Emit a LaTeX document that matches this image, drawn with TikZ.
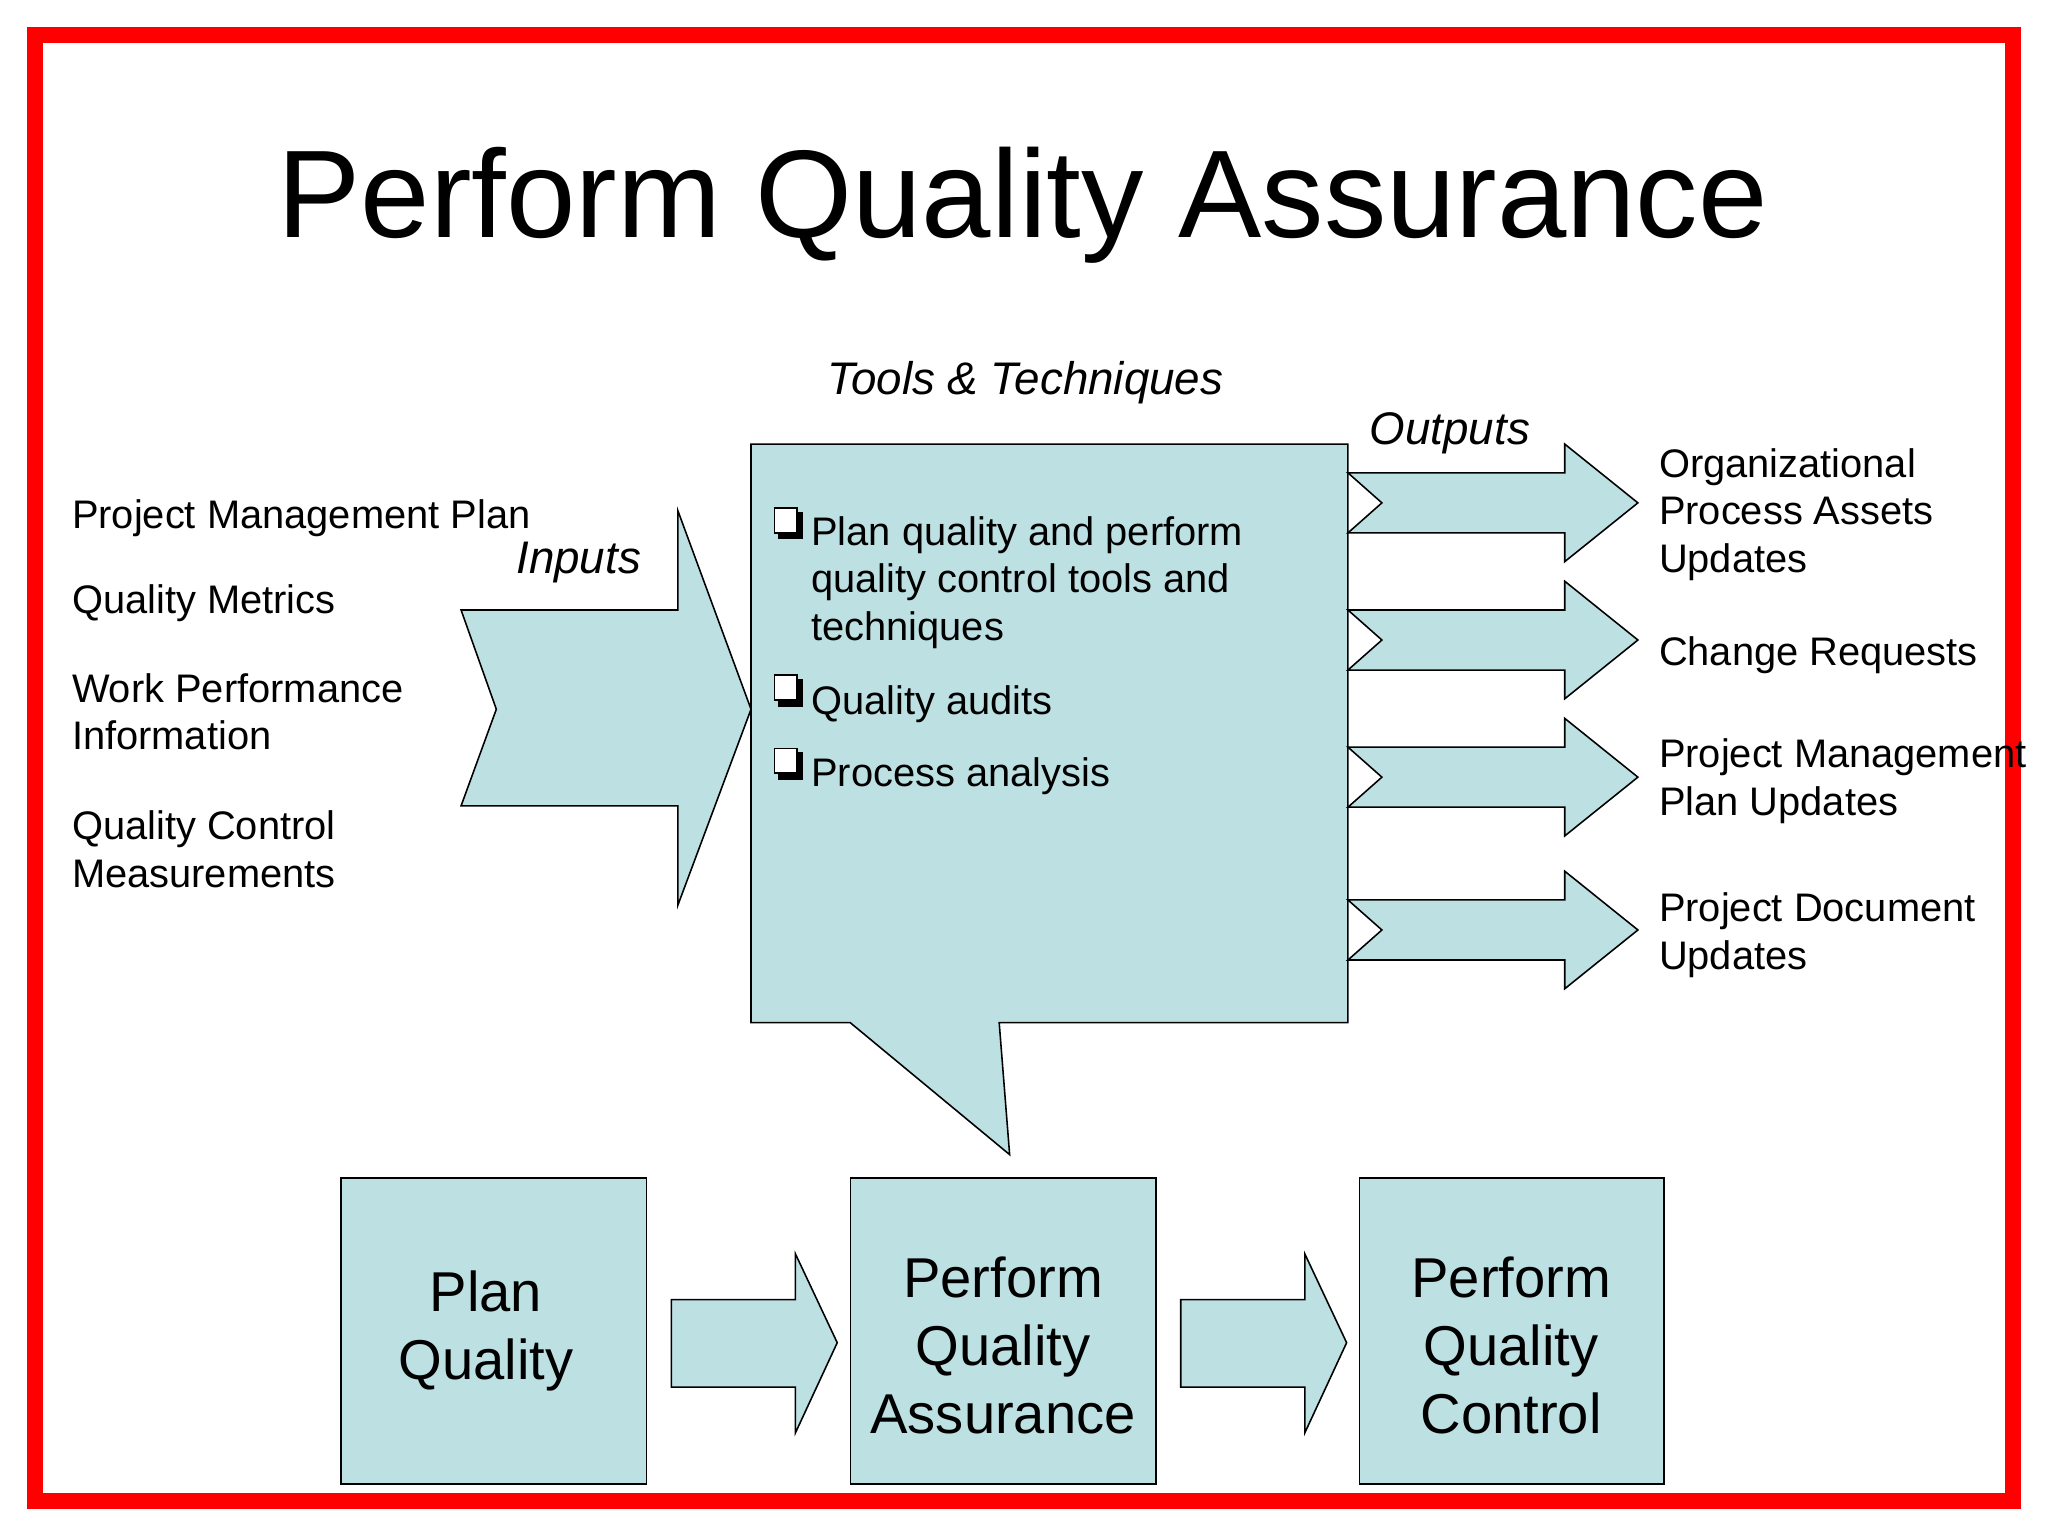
\documentclass[tikz,border=0pt]{standalone}
\usepackage{fontspec}
\setmainfont{Liberation Sans}
\definecolor{qa}{HTML}{BDE0E3}
\begin{document}
\begin{tikzpicture}[x=1pt,y=-1pt,
  shp/.style={draw=black,fill=qa,line width=1.2pt,line join=miter},
  lbl/.style={inner sep=0pt,anchor=west,align=left,font=\fontsize{30.5}{36.5}\selectfont},
  ital/.style={inner sep=0pt,font=\fontsize{35}{40}\selectfont\itshape},
  big/.style={inner sep=0pt,align=center,font=\fontsize{43}{52}\selectfont}]
\useasboundingbox[fill=white] (0,0) rectangle (1568,1176);
\draw[red,line width=12pt] (27,27) rectangle (1541,1149);
\node[inner sep=0pt,font=\fontsize{95.5}{110}\selectfont] (title) at (783,157) {Perform Quality Assurance};
\node[ital] (tt) at (785,293) {Tools \& Techniques};
% main box
\draw[shp] (575,340) -- (1032,340) -- (1032,783) -- (765,783) -- (773,884) -- (651,783) -- (575,783) -- cycle;
\node[lbl] (t1) at (621,446) {Plan quality and perform\\quality control tools and\\techniques};
\node[lbl] (t2) at (621,539) {Quality audits};
\node[lbl] (t3) at (621,594) {Process analysis};
\foreach \yy in {404,532,588}{
  \fill (596,\yy-12) rectangle (615,\yy+9);
  \fill[white] (593,\yy-15) rectangle (610,\yy+4);
  \draw[line width=1.2pt] (593,\yy-15) rectangle (610,\yy+4);
}
% inputs
\draw[shp] (353,467) -- (519,467) -- (519,391) -- (575,543) -- (519,693) -- (519,617) -- (353,617) -- (380,543) -- cycle;
\node[ital] (inp) at (443,431) {Inputs};
\node[lbl] (i1) at (55,397) {Project Management Plan};
\node[lbl] (i2) at (55,462) {Quality Metrics};
\node[lbl] (i3) at (55,545) {Work Performance\\Information};
\node[lbl] (i4) at (55,650) {Quality Control\\Measurements};
% outputs
\foreach \c in {385,490,595,712}{
  \draw[shp] (1032,\c-23) -- (1198,\c-23) -- (1198,\c-45) -- (1254,\c) -- (1198,\c+45) -- (1198,\c+23) -- (1032,\c+23) -- (1058,\c) -- cycle;
}
\node[ital] (outp) at (1110,332) {Outputs};
\node[lbl] (o1) at (1270,394) {Organizational\\Process Assets\\Updates};
\node[lbl] (o2) at (1270,502) {Change Requests};
\node[lbl] (o3) at (1270,598) {Project Management\\Plan Updates};
\node[lbl] (o4) at (1270,716) {Project Document\\Updates};
% bottom
\draw[shp] (261,902) rectangle (495,1136);
\draw[shp] (651,902) rectangle (885,1136);
\draw[shp] (1041,902) rectangle (1274,1136);
\node[big] (b1) at (372,1019) {Plan\\Quality};
\node[big] (b2) at (768,1030) {Perform\\Quality\\Assurance};
\node[big] (b3) at (1157,1030) {Perform\\Quality\\Control};
\foreach \dx in {0,390}{
  \draw[shp] (514+\dx,995) -- (609+\dx,995) -- (609+\dx,960) -- (641+\dx,1028) -- (609+\dx,1097) -- (609+\dx,1062) -- (514+\dx,1062) -- cycle;
}
\end{tikzpicture}
\end{document}
